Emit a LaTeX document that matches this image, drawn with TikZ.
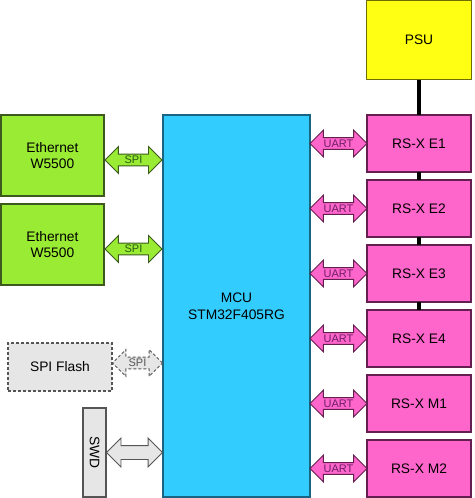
\documentclass[tikz,border=0pt]{standalone}
\usepackage{fontspec}
\usepackage{graphicx}
\setmainfont{Liberation Sans}
\usetikzlibrary{positioning,shapes.arrows,calc}

\definecolor{ethgreen}{RGB}{153,235,51}
\definecolor{ethline}{RGB}{60,90,30}
\definecolor{spitext}{RGB}{40,90,20}
\definecolor{mcublue}{RGB}{51,204,255}
\definecolor{mculine}{RGB}{25,100,130}
\definecolor{rspink}{RGB}{255,102,204}
\definecolor{rsline}{RGB}{100,30,80}
\definecolor{uarttext}{RGB}{110,30,100}
\definecolor{psuyellow}{RGB}{255,255,20}
\definecolor{psuline}{RGB}{110,110,0}
\definecolor{lightgrey}{RGB}{230,230,230}
\definecolor{greyline}{RGB}{85,85,85}

\begin{document}
\begin{tikzpicture}[x=1pt, y=-1pt,
    font=\fontsize{13.8}{16.5}\selectfont,
    block/.style={draw, line width=1.2pt, align=center, inner sep=0pt, outer sep=0pt},
    ethbox/.style={block, draw=ethline, fill=ethgreen, minimum width=103pt, minimum height=81pt},
    rsbox/.style={block, draw=rsline, fill=rspink, minimum width=104pt, minimum height=57pt},
    fatarrow/.style={double arrow, line width=0.9pt, double arrow head extend=7.5pt,
        double arrow tip angle=90, inner xsep=0pt, inner ysep=1.6pt,
        font=\fontsize{11}{11}\selectfont},
    spiarrow/.style={fatarrow, draw=ethline, fill=ethgreen, text=spitext, minimum height=57pt},
    uartarrow/.style={fatarrow, draw=rsline, fill=rspink, text=uarttext, minimum height=57pt},
    bus/.style={line width=3.5pt}]
    \useasboundingbox (0,0) rectangle (474,498);

    % left side
    \node[ethbox] (eth1) at (52.4,155.5) {Ethernet\\W5500};
    \node[ethbox] (eth2) at (52.4,244.5) {Ethernet\\W5500};
    \node[block, dashed, dash pattern=on 3pt off 2pt, draw=greyline, fill=lightgrey,
        minimum width=104pt, minimum height=48pt] (flash) at (60,367) {SPI Flash};
    \node[block, draw=greyline, fill=lightgrey, minimum width=23pt, minimum height=89pt]
        (swd) at (94.5,452.5) {\rotatebox{-90}{SWD}};

    % mcu
    \node[block, draw=mculine, fill=mcublue, minimum width=147pt, minimum height=382pt]
        (mcu) at (236.5,306) {MCU\\STM32F405RG};

    % right side
    \node[rsbox] (e1) at (419,143.5) {RS-X E1};
    \node[rsbox, below=8pt of e1] (e2) {RS-X E2};
    \node[rsbox, below=8pt of e2] (e3) {RS-X E3};
    \node[rsbox, below=8pt of e3] (e4) {RS-X E4};
    \node[rsbox, below=8pt of e4] (m1) {RS-X M1};
    \node[rsbox, below=8pt of m1] (m2) {RS-X M2};
    \node[block, draw=psuline, fill=psuyellow, minimum width=105pt, minimum height=79pt,
        above=35.5pt of e1] (psu) {PSU};

    \draw[bus] (psu) -- (e1) (e1) -- (e2) (e2) -- (e3) (e3) -- (e4);

    % links
    \node[spiarrow] (spi1) at ($(eth1.east)!.5!(mcu.west |- eth1.east)+(0,4.5)$) {SPI};
    \node[spiarrow] (spi2) at ($(eth2.east)!.5!(mcu.west |- eth2.east)+(0,4.5)$) {SPI};
    \node[fatarrow, dashed, dash pattern=on 3pt off 2pt, draw=greyline, fill=lightgrey,
        text=greyline, minimum height=50pt]
        (spi3) at ($(flash.east)!.5!(mcu.west |- flash.east)+(0,-4)$) {SPI};
    \node[fatarrow, draw=greyline, fill=lightgrey, inner ysep=6.5pt, minimum height=56pt]
        (swdlink) at ($(swd.east)!.5!(mcu.west |- swd.east)$) {};
    \foreach \n in {e1,e2,e3,e4,m1,m2}
        \node[uartarrow] (uart-\n) at ($(mcu.east |- \n.west)!.5!(\n.west)$) {UART};
\end{tikzpicture}
\end{document}
